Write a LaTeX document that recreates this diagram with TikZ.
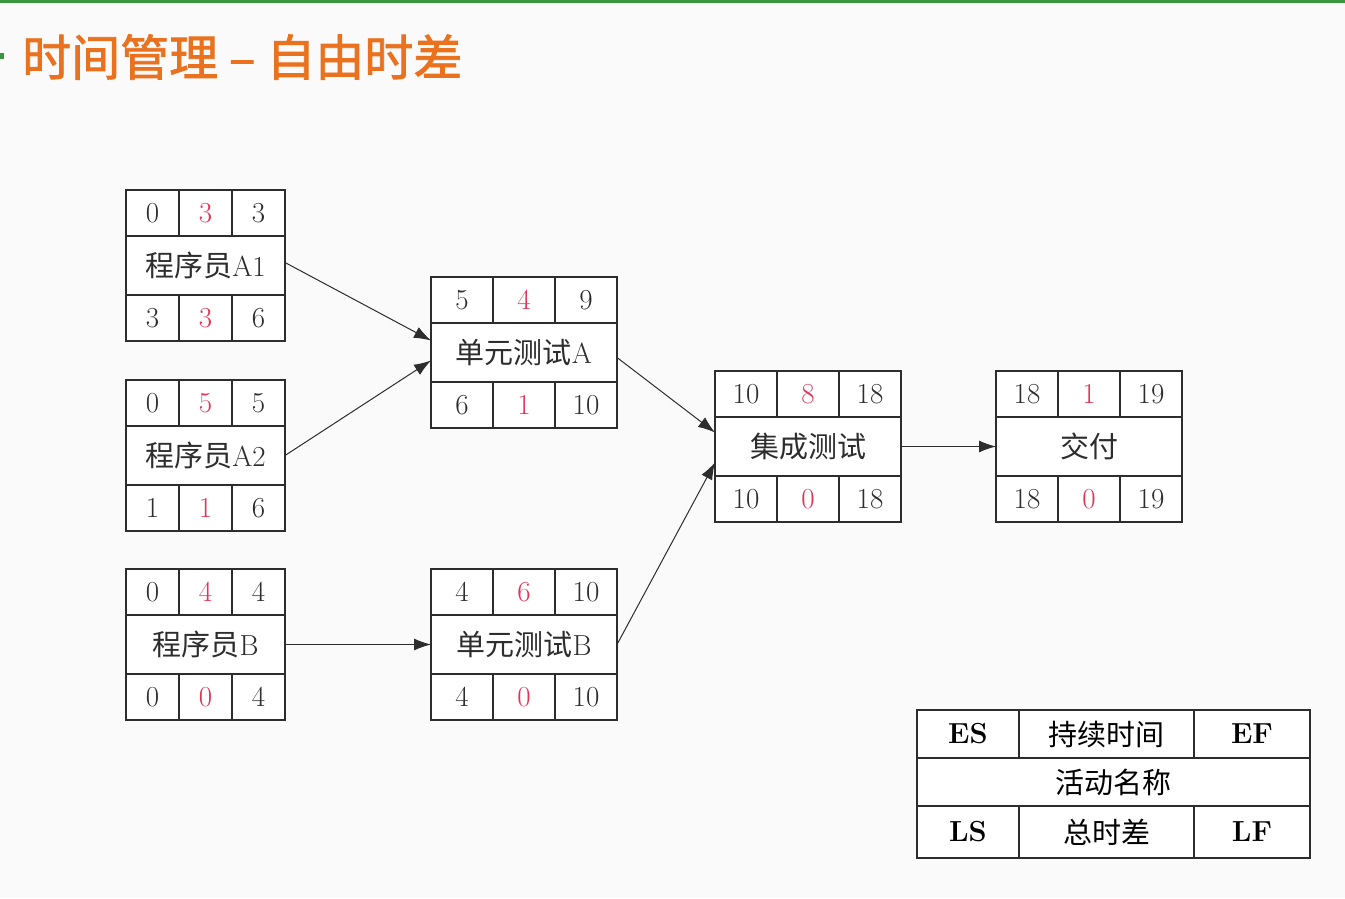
\documentclass[tikz,border=0pt]{standalone}
\usepackage{fontspec}
\newfontfamily\cjk{Noto Sans CJK SC}
\newfontfamily\cjktitle[FakeBold=1.6]{Noto Sans CJK SC}
\usetikzlibrary{positioning,arrows.meta}

\definecolor{slack}{RGB}{228,52,86}
\definecolor{ink}{RGB}{45,45,45}
\definecolor{titleorange}{RGB}{234,113,30}
\definecolor{bargreen}{RGB}{58,150,64}
\definecolor{paper}{RGB}{250,250,250}

\tikzset{
  cell/.style={draw=ink, line width=1.1pt, fill=white, text=ink, inner sep=0pt,
    outer sep=0pt, minimum height=46, font=\fontsize{29}{30}\selectfont},
  namecell/.style={cell, minimum height=59},
  keycell/.style={cell, text=black, minimum height=48},
  flow/.style={draw=ink, line width=1pt, -{Latex[length=17pt,width=12pt]}},
}

% #1 name, #2 top left, #3 cell width, #4 ES/D/EF, #5 activity, #6 LS/TF/LF
\newcommand{\activity}[6]{%
  \foreach \es/\dur/\ef in {#4} {
    \node[cell, minimum width=#3, anchor=north west] (#1-es) at #2 {\es};
    \node[cell, minimum width=#3, text=slack, right=0pt of #1-es] (#1-d) {\dur};
    \node[cell, minimum width=#3, right=0pt of #1-d] (#1-ef) {\ef};
  }
  \node[namecell, minimum width=3*#3, below=0pt of #1-es.south west,
    anchor=north west] (#1) {#5};
  \foreach \ls/\tf/\lf in {#6} {
    \node[cell, minimum width=#3, below=0pt of #1.south west,
      anchor=north west] (#1-ls) {\ls};
    \node[cell, minimum width=#3, text=slack, right=0pt of #1-ls] (#1-tf) {\tf};
    \node[cell, minimum width=#3, right=0pt of #1-tf] (#1-lf) {\lf};
  }
}

\begin{document}
\begin{tikzpicture}[x=1pt, y=-1pt]
    % PAGE
    \useasboundingbox (0,0) rectangle (1345,898);
    \fill[paper] (0,0) rectangle (1345,898);
    \fill[bargreen] (0,0) rectangle (1345,3);
    \fill[bargreen] (0,53) rectangle (4,59);

    % TITLE
    \node[anchor=west, text=titleorange, inner sep=0pt,
      font=\cjktitle\fontsize{49}{51}\selectfont] (title) at (22,57) {时间管理 – 自由时差};

    % ACTIVITIES
    \activity{a1}{(126,190)}{53}{0/3/3}{{\cjk 程序员}A1}{3/3/6}
    \activity{a2}{(126,380)}{53}{0/5/5}{{\cjk 程序员}A2}{1/1/6}
    \activity{b}{(126,569)}{53}{0/4/4}{{\cjk 程序员}B}{0/0/4}
    \activity{ua}{(431,277)}{62}{5/4/9}{{\cjk 单元测试}A}{6/1/10}
    \activity{ub}{(431,569)}{62}{4/6/10}{{\cjk 单元测试}B}{4/0/10}
    \activity{it}{(715,371)}{62}{10/8/18}{{\cjk 集成测试}}{10/0/18}
    \activity{dl}{(996,371)}{62}{18/1/19}{{\cjk 交付}}{18/0/19}

    % FLOWS
    \draw[flow] ([yshift=3]a1.east) -- ([yshift=12]ua.west);
    \draw[flow] (a2.east) -- ([yshift=-8]ua.west);
    \draw[flow] (b.east) -- (ub.west);
    \draw[flow] ([yshift=-5]ua.east) -- ([yshift=14]it.west);
    \draw[flow] (ub.east) -- ([yshift=-16]it.west);
    \draw[flow] (it.east) -- (dl.west);

    % KEY
    \node[keycell, minimum width=102, anchor=north west] (key-es) at (917,710) {\bfseries ES};
    \node[keycell, minimum width=175, right=0pt of key-es] (key-d) {{\cjk 持续时间}};
    \node[keycell, minimum width=116, right=0pt of key-d] (key-ef) {\bfseries EF};
    \node[keycell, minimum width=393, below=0pt of key-es.south west,
      anchor=north west] (key-name) {{\cjk 活动名称}};
    \node[keycell, minimum width=102, minimum height=52, below=0pt of key-name.south west,
      anchor=north west] (key-ls) {\bfseries LS};
    \node[keycell, minimum width=175, minimum height=52, right=0pt of key-ls] (key-tf) {{\cjk 总时差}};
    \node[keycell, minimum width=116, minimum height=52, right=0pt of key-tf] (key-lf) {\bfseries LF};
\end{tikzpicture}
\end{document}
